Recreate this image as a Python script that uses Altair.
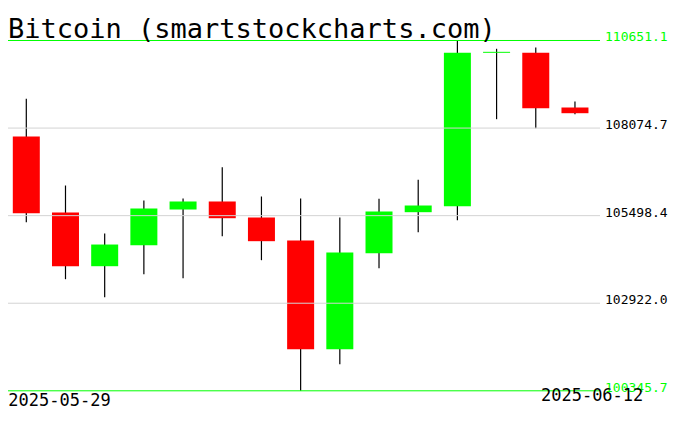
import altair as alt
import pandas as pd

# ---- data ----
dates = ["2025-05-29", "2025-05-30", "2025-05-31", "2025-06-01", "2025-06-02",
         "2025-06-03", "2025-06-04", "2025-06-05", "2025-06-06", "2025-06-07",
         "2025-06-08", "2025-06-09", "2025-06-10", "2025-06-11", "2025-06-12"]
open_ = [107827, 105591, 104011, 104629, 105679, 105915, 105444, 104767,
         101569, 104394, 105600, 105776, 110289, 110289, 108680]
high = [108936, 106385, 104973, 105944, 106003, 106924, 106062, 106003,
        105444, 105994, 106553, 110651, 110407, 110445, 108857]
low = [105306, 103629, 103099, 103776, 103658, 104894, 104188, 100346,
       101128, 103952, 105011, 105364, 108336, 108071, 108483]
close = [105570, 104011, 104649, 105709, 105915, 105423, 104747, 101569,
         104414, 105620, 105797, 110289, 110318, 108659, 108512]

levels = [110651.1, 108074.7, 105498.4, 102922.0, 100345.7]
level_labels = ["110651.1", "108074.7", "105498.4", "102922.0", "100345.7"]
level_kind = ["edge", "mid", "mid", "mid", "edge"]

title_text = "Bitcoin (smartstockcharts.com)"
first_label = dates[0]
last_label = dates[-1]

GREEN = "#00ff00"
RED = "#ff0000"
GRAY = "#d3d3d3"
FONT = "DejaVu Sans Mono"

df = pd.DataFrame({
    "idx": list(range(len(dates))),
    "date": dates,
    "open": open_,
    "high": high,
    "low": low,
    "close": close,
})
df["dir"] = ["up" if c >= o else "down" for o, c in zip(open_, close)]

lv = pd.DataFrame({"value": levels, "label": level_labels, "kind": level_kind})

xs = alt.Scale(domain=[-0.467, 16.374], nice=False, zero=False, padding=0)
ys = alt.Scale(domain=[99398.4, 111607.2], nice=False, zero=False, padding=0)

X = alt.X("idx:Q", scale=xs, axis=None)

wicks = alt.Chart(df).mark_rule(color="black", strokeWidth=1.2).encode(
    x=X,
    y=alt.Y("low:Q", scale=ys, axis=None),
    y2="high:Q",
)

bodies = alt.Chart(df).mark_bar(size=27).encode(
    x=X,
    y=alt.Y("open:Q", scale=ys, axis=None),
    y2="close:Q",
    color=alt.Color("dir:N", scale=alt.Scale(domain=["up", "down"], range=[GREEN, RED]), legend=None),
)

grid = alt.Chart(lv).mark_rule(strokeWidth=1).encode(
    x=alt.value(0),
    x2=alt.value(592),
    y=alt.Y("value:Q", scale=ys, axis=None),
    color=alt.Color("kind:N", scale=alt.Scale(domain=["edge", "mid"], range=[GREEN, GRAY]), legend=None),
)

ylabels = alt.Chart(lv).mark_text(align="left", baseline="alphabetic", dy=1,
                                  font=FONT, fontSize=13).encode(
    x=alt.value(597),
    y=alt.Y("value:Q", scale=ys, axis=None),
    text="label:N",
    color=alt.Color("kind:N", scale=alt.Scale(domain=["edge", "mid"], range=[GREEN, "black"]), legend=None),
)

title = alt.Chart(pd.DataFrame({"t": [title_text]})).mark_text(
    align="left", baseline="alphabetic", font=FONT, fontSize=27, color="black"
).encode(x=alt.value(0), y=alt.value(29.5), text="t:N")

xl1 = alt.Chart(pd.DataFrame({"idx": [0], "t": [first_label]})).mark_text(
    align="left", baseline="alphabetic", font=FONT, fontSize=17, color="black", dx=-18
).encode(x=X, y=alt.value(398), text="t:N")

xl2 = alt.Chart(pd.DataFrame({"idx": [14], "t": [last_label]})).mark_text(
    align="left", baseline="alphabetic", font=FONT, fontSize=17, color="black", dx=-34
).encode(x=X, y=alt.value(393), text="t:N")

chart = alt.layer(wicks, bodies, grid, ylabels, title, xl1, xl2).properties(
    width=660, height=415,
    autosize=alt.AutoSizeParams(type="none"),
    padding=0,
    background="white",
).configure_view(stroke=None).resolve_scale(color="independent")

chart.save("out.html", embed_options={"renderer": "svg", "actions": False})
